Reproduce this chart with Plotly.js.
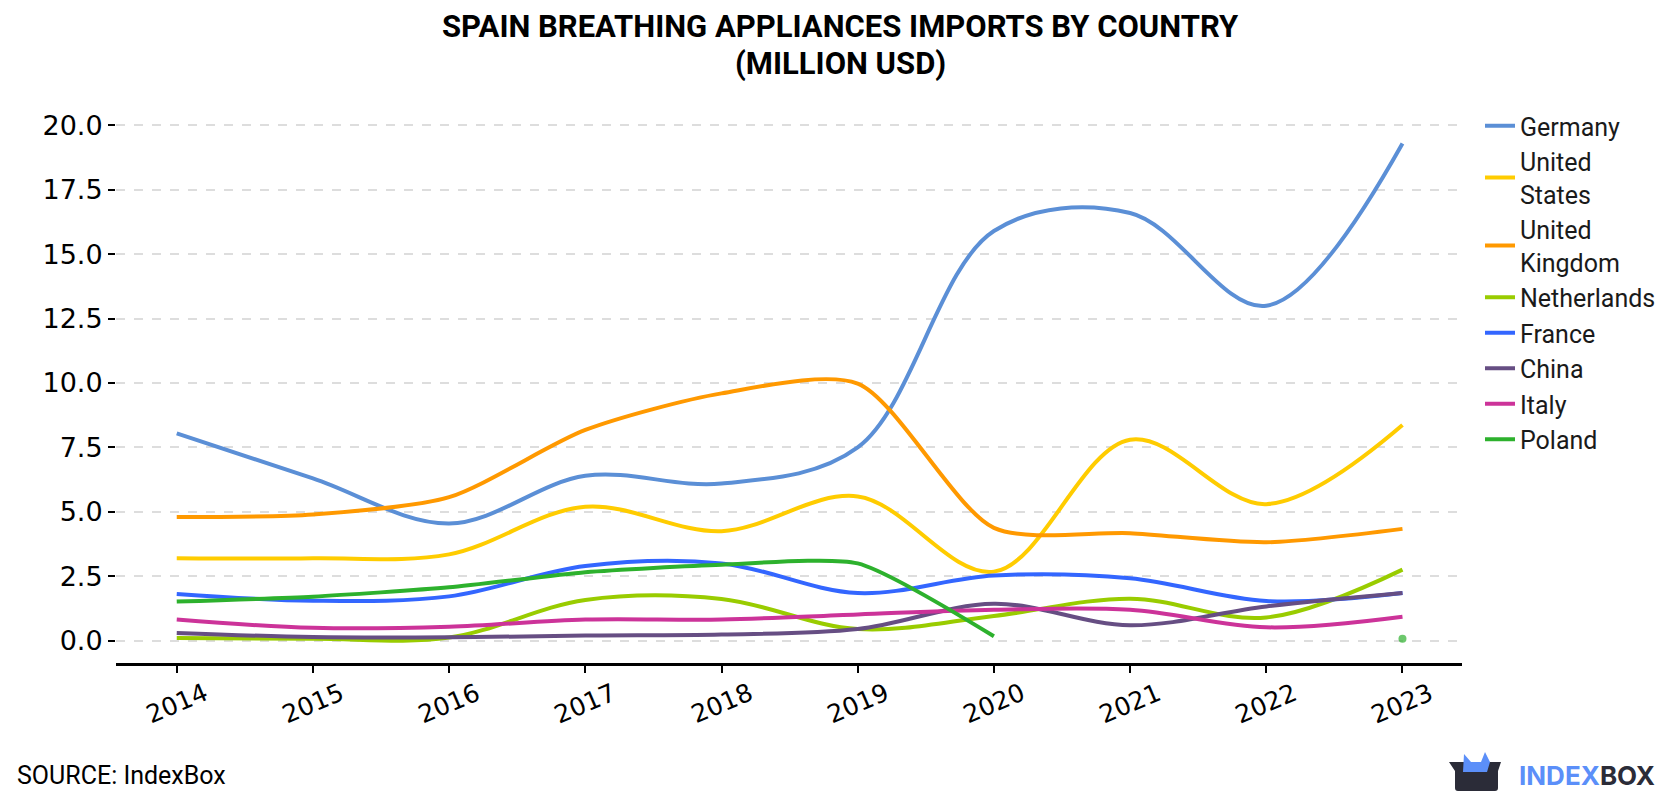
<!DOCTYPE html>
<html>
<head>
<meta charset="utf-8">
<script src="https://cdn.plot.ly/plotly-3.0.1.min.js"></script>
<style>
  html, body { margin: 0; padding: 0; background: #fff; }
  #chart { width: 1680px; height: 800px; }
</style>
</head>
<body>
<div id="chart"></div>
<script>
// ---- data ----
const years = [2014, 2015, 2016, 2017, 2018, 2019, 2020, 2021, 2022, 2023];
const yearLabels = ["2014", "2015", "2016", "2017", "2018", "2019", "2020", "2021", "2022", "2023"];

const germany       = [8.05, 6.3, 4.55, 6.4, 6.1, 7.5, 15.9, 16.6, 13.0, 19.3];
const unitedStates  = [3.2, 3.2, 3.35, 5.2, 4.25, 5.6, 2.68, 7.8, 5.3, 8.37];
const unitedKingdom = [4.8, 4.9, 5.57, 8.18, 9.6, 9.98, 4.38, 4.17, 3.82, 4.34];
const netherlands   = [0.1, 0.08, 0.12, 1.58, 1.62, 0.45, 0.96, 1.63, 0.9, 2.76];
const france        = [1.81, 1.55, 1.72, 2.9, 3.0, 1.85, 2.53, 2.42, 1.54, 1.85];
const china         = [0.3, 0.14, 0.13, 0.2, 0.24, 0.45, 1.43, 0.6, 1.33, 1.85];
const italy         = [0.82, 0.5, 0.54, 0.82, 0.82, 1.02, 1.2, 1.2, 0.52, 0.93];
const poland        = [1.52, 1.71, 2.07, 2.66, 2.95, 3.0, 0.17, null, null, 0.08];

const seriesNames     = ["Germany", "United<br>States", "United<br>Kingdom", "Netherlands", "France", "China", "Italy", "Poland"];
const seriesValues    = [germany, unitedStates, unitedKingdom, netherlands, france, china, italy, poland];
const seriesColors    = ["#5b8fd6", "#ffcc00", "#ff9900", "#99cc00", "#3366ff", "#664e83", "#cc3399", "#2db12d"];
const seriesSmoothing = [1, 1, 0.75, 1, 1, 1, 1, 0.6];

const yTicks = [0, 2.5, 5, 7.5, 10, 12.5, 15, 17.5, 20];
const yTickLabels = ["0.0", "2.5", "5.0", "7.5", "10.0", "12.5", "15.0", "17.5", "20.0"];

const titleLines = ["SPAIN BREATHING APPLIANCES IMPORTS BY COUNTRY", "(MILLION USD)"];

// ---- layout geometry (pixels) ----
const W = 1680, H = 800;
const M = { l: 116, r: 218, t: 108, b: 137 };
const plotW = W - M.l - M.r, plotH = H - M.t - M.b;
const px2x = (px) => (px - M.l) / plotW;
const py2y = (py) => (H - M.b - py) / plotH;

const traces = seriesNames.map((name, i) => ({
  type: "scatter",
  x: years,
  y: seriesValues[i],
  name: name,
  legendgroup: "g" + i,
  mode: "lines",
  line: { color: seriesColors[i], width: 4, shape: "spline", smoothing: seriesSmoothing[i] },
  connectgaps: false,
  hoverinfo: "x+y+name"
}));

// isolated points (no neighbours on either side) cannot be drawn as lines: show them as dots
seriesValues.forEach((vals, i) => {
  const sizes = vals.map((v, k) => {
    if (v === null) return 0;
    const prev = k > 0 ? vals[k - 1] : null;
    const next = k < vals.length - 1 ? vals[k + 1] : null;
    return (prev === null && next === null) ? 8 : 0;
  });
  if (sizes.some(s => s > 0)) {
    traces.push({
      type: "scatter",
      x: years,
      y: vals,
      name: seriesNames[i],
      legendgroup: "g" + i,
      showlegend: false,
      mode: "markers",
      marker: { color: seriesColors[i], size: sizes, line: { width: 0 } },
      hoverinfo: "x+y+name"
    });
  }
});

// logo icon shapes (paper coordinates built from pixel helpers)
const logoShapes = [
  {
    type: "path", xref: "paper", yref: "paper",
    path: "M " + px2x(1449) + "," + py2y(762) +
          " L " + px2x(1501) + "," + py2y(762) +
          " L " + px2x(1498) + "," + py2y(771) +
          " L " + px2x(1498) + "," + py2y(788) +
          " Q " + px2x(1498) + "," + py2y(791) + " " + px2x(1495) + "," + py2y(791) +
          " L " + px2x(1458) + "," + py2y(791) +
          " Q " + px2x(1455) + "," + py2y(791) + " " + px2x(1455) + "," + py2y(788) +
          " L " + px2x(1455) + "," + py2y(771) + " Z",
    fillcolor: "#2b2c38", line: { width: 0 }
  },
  {
    type: "path", xref: "paper", yref: "paper",
    path: "M " + px2x(1463) + "," + py2y(772) +
          " L " + px2x(1464) + "," + py2y(754) +
          " L " + px2x(1471) + "," + py2y(762) +
          " L " + px2x(1481) + "," + py2y(762) +
          " L " + px2x(1485) + "," + py2y(752) +
          " L " + px2x(1490) + "," + py2y(762) +
          " L " + px2x(1487) + "," + py2y(772) + " Z",
    fillcolor: "#5b8ff9", line: { width: 0 }
  }
];

const titleFont = { family: "Roboto, sans-serif", size: 31, color: "#000" };
const titleCentersPx = [27, 64];

const annotations = titleLines.map((line, k) => ({
  text: "<b>" + line + "</b>",
  xref: "paper", yref: "paper", x: px2x(W / 2), y: py2y(titleCentersPx[k]),
  xanchor: "center", yanchor: "middle", showarrow: false,
  font: titleFont
}));

annotations.push(
  {
    text: "SOURCE: IndexBox",
    xref: "paper", yref: "paper",
    x: px2x(15), y: py2y(775),
    xanchor: "left", yanchor: "middle",
    showarrow: false,
    font: { family: "Roboto, sans-serif", size: 25, color: "#000" }
  },
  {
    text: "<b><span style='color:#5b8ff9'>INDEX</span><span style='color:#2b2c38'>BOX</span></b>",
    xref: "paper", yref: "paper",
    x: px2x(1517), y: py2y(775),
    xanchor: "left", yanchor: "middle",
    showarrow: false,
    font: { family: "Inter, Roboto, sans-serif", size: 26, color: "#2b2c38" }
  }
);

// rotated year labels centred under each tick
yearLabels.forEach((lbl, k) => {
  annotations.push({
    text: lbl,
    xref: "x", yref: "paper",
    x: years[k], y: py2y(703),
    xanchor: "center", yanchor: "middle",
    textangle: -23,
    showarrow: false,
    font: { family: "DejaVu Sans, sans-serif", size: 25, color: "#000" }
  });
});

const layout = {
  width: W, height: H,
  margin: M,
  paper_bgcolor: "#ffffff",
  plot_bgcolor: "#ffffff",
  showlegend: true,
  xaxis: {
    range: [2013.554, 2023.437],
    tickmode: "array",
    tickvals: years,
    showticklabels: false,
    ticks: "outside", ticklen: 7, tickwidth: 2, tickcolor: "#000",
    showline: true, linecolor: "#000", linewidth: 3,
    showgrid: false, zeroline: false
  },
  yaxis: {
    range: [-0.866, 20.675],
    tickmode: "array",
    tickvals: yTicks,
    ticktext: yTickLabels,
    ticks: "outside", ticklen: 7, tickwidth: 2, tickcolor: "#000",
    showline: false, zeroline: false,
    showgrid: true, gridcolor: "#dddddd", gridwidth: 2, griddash: "dash",
    tickfont: { family: "DejaVu Sans, sans-serif", size: 27, color: "#000" }
  },
  legend: {
    x: px2x(1480), xanchor: "left",
    y: py2y(103), yanchor: "top",
    font: { family: "Roboto, sans-serif", size: 25, color: "#1a1a1a" },
    bgcolor: "rgba(0,0,0,0)",
    tracegroupgap: 0,
    itemwidth: 30
  },
  shapes: logoShapes,
  annotations: annotations
};

Plotly.newPlot("chart", traces, layout, { displayModeBar: false, staticPlot: true });
</script>
</body>
</html>
